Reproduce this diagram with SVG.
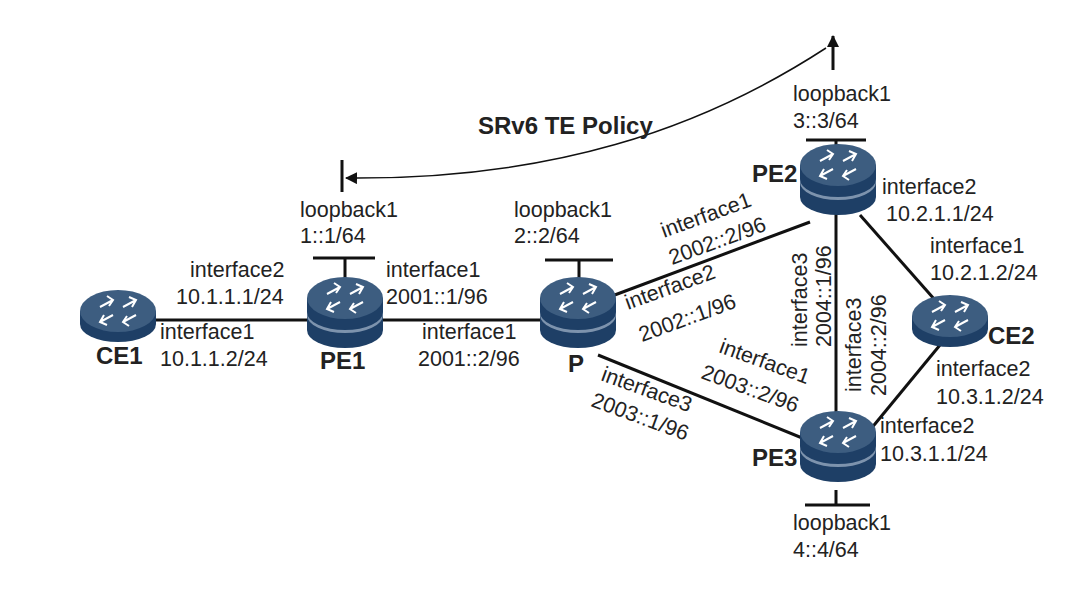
<svg xmlns="http://www.w3.org/2000/svg" width="1082" height="590" viewBox="0 0 1082 590">
<style>
text{font-family:"Liberation Sans",Arial,sans-serif;font-size:21.5px;fill:#222}
.b{font-weight:bold;font-size:24px}
.l{stroke:#111;stroke-width:3;fill:none}
.top{fill:#3d5d80}
.side{fill:#1e3f66}
.mid{fill:#7d93ad}
.ar{fill:none;stroke:#fff;stroke-width:2}
</style>
<defs>
<marker id="ah" markerWidth="12" markerHeight="12" refX="11" refY="6" orient="auto" markerUnits="userSpaceOnUse"><path d="M0,0L12,6L0,12z" fill="#111"/></marker>
<g id="arrows">
<path class="ar" d="M-18,-4 L-5,-11 M-11,-15 L-5,-11 L-9,-5 M18,4 L5,11 M11,15 L5,11 L9,5 M-5,4 L-18,11 M-14,4 L-18,11 L-11,14 M5,-4 L18,-11 M14,-4 L18,-11 L11,-14"/>
</g>
<g id="r2">
<path class="side" d="M-38,0 V32 A38,18 0 0 0 38,32 V0z"/>
<path class="mid" d="M-38,14 A38,18 0 0 0 38,14 V17 A38,18 0 0 1 -38,17z"/>
<ellipse class="top" cx="0" cy="0" rx="38" ry="21"/>
<use href="#arrows"/>
</g>
<g id="r1">
<path class="side" d="M-38,0 V13 A38,18 0 0 0 38,13 V0z"/>
<ellipse class="top" cx="0" cy="0" rx="38" ry="21"/>
<use href="#arrows"/>
</g>
</defs>
<rect width="1082" height="590" fill="#fff"/>
<g id="connectors">
<line class="l" x1="150" y1="320" x2="310" y2="320"/>
<line class="l" x1="380" y1="320" x2="545" y2="320"/>
<line class="l" x1="612" y1="296" x2="810" y2="222"/>
<line class="l" x1="598" y1="355" x2="812" y2="442"/>
<line class="l" x1="836" y1="210" x2="836" y2="420"/>
<line class="l" x1="860" y1="215" x2="935" y2="300"/>
<line class="l" x1="870" y1="430" x2="940" y2="345"/>
<path class="l" d="M313,258 H375 M345,258 V285"/>
<path class="l" d="M545,260 H613 M579,260 V285"/>
<path class="l" d="M806,140 H866 M836,140 V155"/>
<path class="l" d="M805,505 H870 M836,490 V505"/>
<path class="l" d="M342,160 V192"/>
<path class="l" d="M833,70 V36" marker-end="url(#ah)"/>
<path style="stroke:#111;stroke-width:1.5;fill:none" d="M826,48 C700,130 550,180 346,178" marker-end="url(#ah)"/>
</g>
<g id="CE1"><use href="#r1" x="118" y="311"/><text class="b" x="96" y="364">CE1</text></g>
<g id="PE1"><use href="#r2" x="345" y="298"/><text class="b" x="320" y="369">PE1</text></g>
<g id="P"><use href="#r2" x="578" y="298"/><text class="b" x="568" y="372">P</text></g>
<g id="PE2"><use href="#r2" x="838" y="165"/><text class="b" x="752" y="182">PE2</text></g>
<g id="PE3"><use href="#r2" x="838" y="432"/><text class="b" x="752" y="466">PE3</text></g>
<g id="CE2"><use href="#r1" x="950" y="316"/><text class="b" x="988" y="344">CE2</text></g>
<g id="labels">
<text class="b" x="478" y="134">SRv6 TE Policy</text>
<text x="300" y="217">loopback1</text><text x="300" y="243">1::1/64</text>
<text x="514" y="217">loopback1</text><text x="514" y="243">2::2/64</text>
<text x="793" y="101">loopback1</text><text x="793" y="128">3::3/64</text>
<text x="793" y="530">loopback1</text><text x="793" y="557">4::4/64</text>
<text x="190" y="277">interface2</text><text x="176" y="304">10.1.1.1/24</text>
<text x="160" y="339">interface1</text><text x="160" y="366">10.1.1.2/24</text>
<text x="386" y="277">interface1</text><text x="386" y="304">2001::1/96</text>
<text x="422" y="339">interface1</text><text x="418" y="366">2001::2/96</text>
<text x="882" y="194">interface2</text><text x="886" y="221">10.2.1.1/24</text>
<text x="930" y="253">interface1</text><text x="930" y="280">10.2.1.2/24</text>
<text x="936" y="376">interface2</text><text x="936" y="404">10.3.1.2/24</text>
<text x="880" y="433">interface2</text><text x="880" y="461">10.3.1.1/24</text>
<text transform="translate(664,238) rotate(-20)">interface1</text>
<text transform="translate(672,265) rotate(-20)">2002::2/96</text>
<text transform="translate(628,310) rotate(-20)">interface2</text>
<text transform="translate(642,342) rotate(-20)">2002::1/96</text>
<text transform="translate(718,352) rotate(20)">interface1</text>
<text transform="translate(700,378) rotate(20)">2003::2/96</text>
<text transform="translate(600,380) rotate(20)">interface3</text>
<text transform="translate(590,406) rotate(20)">2003::1/96</text>
<text transform="translate(807,347) rotate(-90)">interface3</text>
<text transform="translate(831,347) rotate(-90)">2004::1/96</text>
<text transform="translate(861,392) rotate(-90)">interface3</text>
<text transform="translate(886,396) rotate(-90)">2004::2/96</text>
</g>
</svg>
